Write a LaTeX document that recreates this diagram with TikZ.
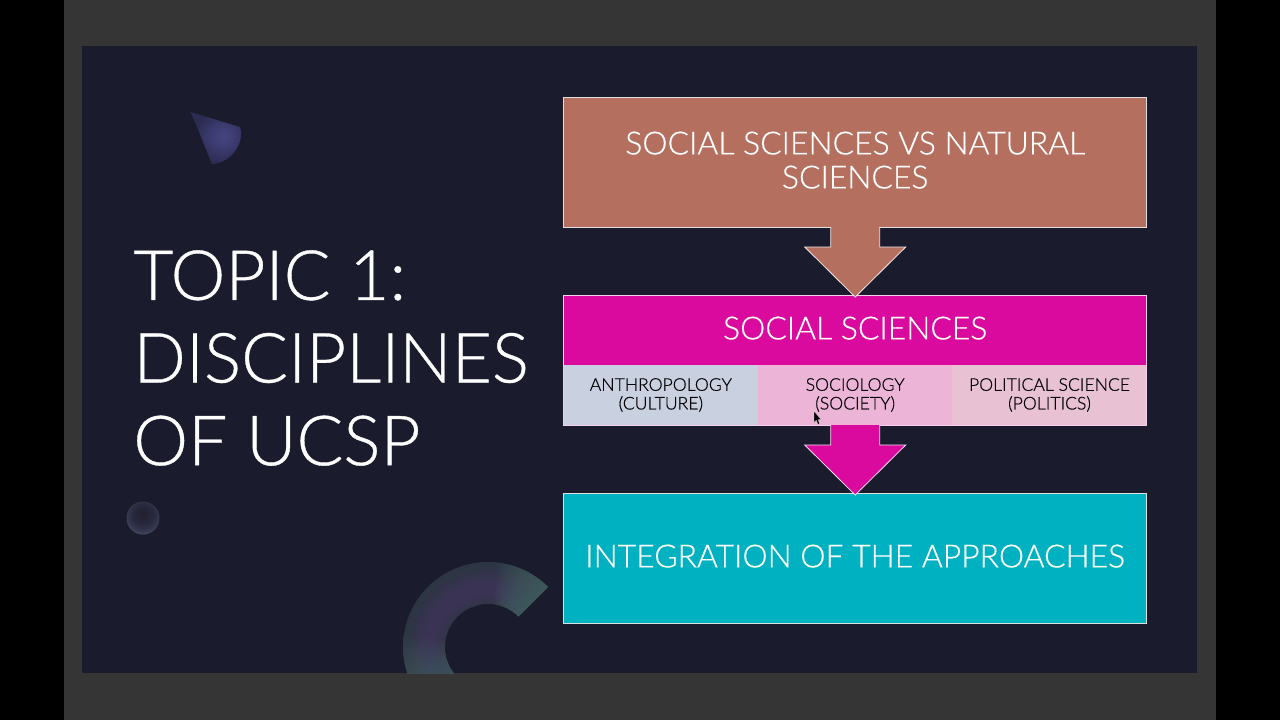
\documentclass[tikz,border=0pt]{standalone}
\usepackage{fontspec}
\setmainfont{Lato}
\newfontfamily\titlefont[FakeBold=0.5]{Lato Light}
\newfontfamily\bodyfont[FakeBold=0.5]{Lato Light}
\usetikzlibrary{calc,positioning}
\definecolor{slidebg}{HTML}{1A1C2E}
\definecolor{framegrey}{HTML}{353535}
\definecolor{clay}{HTML}{B56F5F}
\definecolor{magentab}{HTML}{DA0A9F}
\definecolor{tealb}{HTML}{00B1C1}
\definecolor{cella}{HTML}{C9D0E0}
\definecolor{cellb}{HTML}{ECB5D8}
\definecolor{cellc}{HTML}{E8C2D2}
\definecolor{ringpurple}{HTML}{3B3355}
\definecolor{ringteal}{HTML}{4A6A68}
\definecolor{ringedge}{HTML}{2C3542}
\definecolor{ringinner}{HTML}{2F3446}
\definecolor{conelight}{HTML}{454480}
\definecolor{conedark}{HTML}{2C2C52}
\definecolor{sa}{HTML}{20202F}
\definecolor{sb}{HTML}{2A2A40}
\definecolor{sc}{HTML}{363A52}
\definecolor{se}{HTML}{5C7277}
\pgfdeclareradialshading{ringsh}{\pgfpoint{0bp}{0bp}}{
 color(0bp)=(ringinner);
 color(12.5bp)=(ringinner);
 color(15bp)=(ringpurple!85!ringinner);
 color(18.5bp)=(ringpurple);
 color(22bp)=(ringpurple!40!ringedge);
 color(25bp)=(ringedge);
 color(50bp)=(ringedge)}
\pgfdeclareradialshading{spheresh}{\pgfpoint{0bp}{8bp}}{
 color(0bp)=(sa);
 color(17bp)=(sb);
 color(25bp)=(sc);
 color(33bp)=(se);
 color(50bp)=(se)}
\pgfdeclareradialshading{conesh}{\pgfpoint{6bp}{2bp}}{
 color(0bp)=(conelight);
 color(10bp)=(conelight!70!conedark);
 color(25bp)=(conedark);
 color(50bp)=(conedark)}
\tikzset{
 x=0.75pt,y=-0.75pt,
 panel/.style={draw=white!88!black,line width=0.7pt,minimum width=437.25pt,text=white,align=center,inner sep=0pt,outer sep=0pt,font=\bodyfont\fontsize{23.9}{25.5}\selectfont},
 cell/.style={minimum width=145.75pt,minimum height=45pt,text=black!90!slidebg,align=center,inner sep=0pt,outer sep=0pt,font=\bodyfont\fontsize{13.2}{14}\selectfont},
}
\begin{document}
\begin{tikzpicture}
\useasboundingbox (0,0) rectangle (1280,720);
\fill[black] (0,0) rectangle (1280,720);
\fill[framegrey] (64,0) rectangle (1216,720);
\fill[slidebg] (82,46) rectangle (1197,673);
% decorations
\begin{scope}
 \clip (82,46) rectangle (1197,673);
 \begin{scope}[even odd rule]
  \clip (488,647) circle[radius=85] (488,647) circle[radius=43];
  \clip (488,647) -- (608,527) -- (200,527) -- (200,800) -- (488,800) -- cycle;
  \shade[shading=ringsh] (403,562) rectangle (573,732);
  \foreach \a in {47,49,...,83}{
   \fill[ringteal,opacity=.07] (488,647) -- ++(-45:95) arc[start angle=-45,end angle=-\a,radius=95] -- cycle;}
  \foreach \a in {214,211,...,172}{
   \fill[ringteal,opacity=.06] (488,647) -- ++(-225:95) arc[start angle=-225,end angle=-\a,radius=95] -- cycle;}
 \end{scope}
\end{scope}
\shade[shading=spheresh] (143,518) circle[radius=16.5];
\shade[shading=conesh] (190.5,112) -- (240,127) .. controls (245,142) and (232,163) .. (212,164) .. controls (206,150) and (198,128) .. (190.5,112) -- cycle;
% title
\node[anchor=north west,text=white,align=left,inner sep=0pt,font=\titlefont\fontsize{52}{62}\selectfont] (title) at (133,250) {TOPIC 1:\\DISCIPLINES\\OF UCSP};
% boxes
\node[panel,fill=clay,minimum height=97.5pt,text depth=3pt] (top) at (855.2,162) {SOCIAL SCIENCES VS NATURAL\\SCIENCES};
\node[panel,draw=none,fill=magentab,minimum height=52.5pt,text depth=3pt] (mid) at (855.2,330) {SOCIAL SCIENCES};
\node[cell,fill=cella,anchor=north west] (anth) at (563.7,365) {ANTHROPOLOGY\\(CULTURE)};
\node[cell,fill=cellb,right=0pt of anth] (soc) {SOCIOLOGY\\(SOCIETY)};
\node[cell,fill=cellc,right=0pt of soc] (pol) {POLITICAL SCIENCE\\(POLITICS)};
\draw[white!80!magentab,line width=0.6pt] (mid.north west) rectangle (pol.south east);
\node[panel,fill=tealb,minimum height=97.5pt,text depth=3pt] (int) at (855.2,558) {INTEGRATION OF THE APPROACHES};
% block arrows
\foreach \f/\t/\c in {top/mid/clay,soc/int/magentab}{
 \fill[\c] ($(\f.south)+(-24.5,0)$) -- ++(0,20) -- ++(-26,0) -- ($(\t.north)+(0,2)$) -- ($(\f.south)+(50.5,20)$) -- ($(\f.south)+(24.5,20)$) -- ($(\f.south)+(24.5,0)$) -- cycle;
 \draw[white!85!\c,line width=0.6pt] ($(\f.south)+(-24.5,0)$) -- ++(0,20) -- ++(-26,0) -- ($(\t.north)+(0,2)$) -- ($(\f.south)+(50.5,20)$) -- ($(\f.south)+(24.5,20)$) -- ($(\f.south)+(24.5,0)$);
}
% mouse pointer
\fill[black,draw=white!70!cellb,line width=0.2pt] (814,411) -- (814,422.5) -- (816.3,420.3) -- (818,424.5) -- (819.8,423.7) -- (818,419.8) -- (821,419.5) -- cycle;
\end{tikzpicture}
\end{document}
